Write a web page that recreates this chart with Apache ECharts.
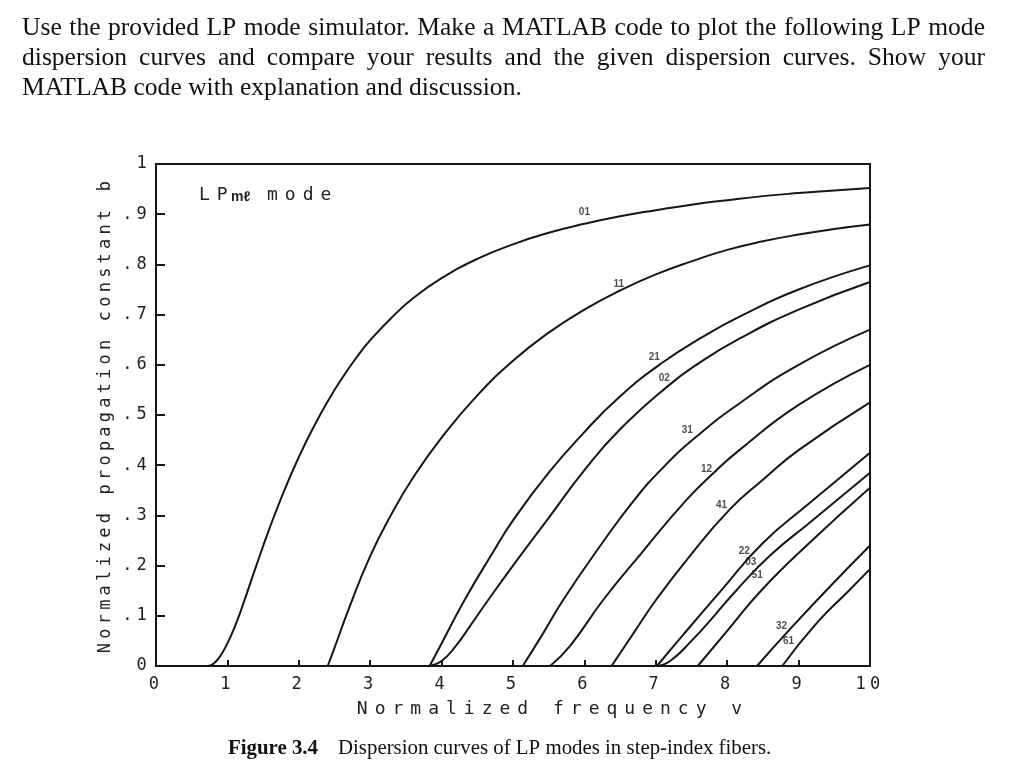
<!DOCTYPE html>
<html><head><meta charset="utf-8">
<script src="https://cdn.jsdelivr.net/npm/echarts@6/dist/echarts.min.js"></script>
<style>html,body{margin:0;padding:0;background:#fff}#c{width:1021px;height:773px}</style>
</head><body><div id="c"></div>
<script>
// ---------------- data ----------------
const V_TICKS = [0, 1, 2, 3, 4, 5, 6, 7, 8, 9, 10];
const B_TICKS = [0, 0.1, 0.2, 0.3, 0.4, 0.5, 0.6, 0.7, 0.8, 0.9, 1];
const B_TICK_LABELS = ['0', '.1', '.2', '.3', '.4', '.5', '.6', '.7', '.8', '.9', '1'];

const LP01 = [[0.72,0],[0.8,0.004],[0.9,0.02],[1.0,0.045],[1.1,0.077],[1.2,0.115],[1.4,0.198],[1.6,0.278],[1.8,0.351],[2.0,0.416],[2.2,0.474],[2.4,0.526],[2.6,0.572],[2.8,0.613],[3.0,0.649],[3.3,0.694],[3.6,0.7325],[4.0,0.7725],[4.5,0.811],[5.0,0.84],[5.5,0.863],[6.0,0.881],[6.5,0.896],[7.0,0.908],[7.5,0.919],[8.0,0.928],[8.5,0.936],[9.0,0.942],[9.5,0.947],[10,0.952]];
const LP11 = [[2.405,0],[2.5,0.036],[2.7,0.114],[3.0,0.219],[3.3,0.303],[3.6,0.375],[4.0,0.455],[4.5,0.539],[5.0,0.608],[5.5,0.664],[6.0,0.71],[6.5,0.748],[7.0,0.78],[7.5,0.806],[8.0,0.829],[8.5,0.846],[9.0,0.8595],[9.5,0.8705],[10,0.8795]];
const LP21 = [[3.832,0],[4.0,0.045],[4.32,0.131],[4.7,0.222],[5.0,0.29],[5.5,0.385],[6.0,0.466],[6.49,0.536],[7.09,0.604],[7.65,0.655],[8.2,0.698],[9.0,0.75],[10,0.798]];
const LP02 = [[3.832,0],[4.0,0.01],[4.2,0.04],[4.4,0.08],[4.65,0.131],[5.0,0.2],[5.5,0.295],[6.0,0.39],[6.49,0.47],[7.19,0.56],[7.6,0.603],[8.17,0.652],[9.0,0.71],[10,0.765]];
const LP31 = [[5.136,0],[5.4,0.06],[5.7,0.131],[6.2,0.235],[6.7,0.331],[7.1,0.395],[7.57,0.457],[8.17,0.523],[9.0,0.6],[10,0.67]];
const LP12 = [[5.52,0],[5.8,0.04],[6.26,0.131],[6.8,0.225],[7.43,0.331],[7.85,0.39],[8.17,0.43],[9.0,0.52],[10,0.6]];
const LP41 = [[6.38,0],[6.7,0.068],[7.0,0.131],[7.47,0.218],[8.03,0.311],[8.5,0.371],[9.0,0.43],[10,0.525]];
const LP22 = [[7.016,0],[7.4,0.065],[7.92,0.151],[8.5,0.245],[9.15,0.324],[10,0.425]];
const LP03 = [[7.016,0],[7.2,0.01],[7.5,0.05],[7.8,0.097],[8.13,0.151],[8.6,0.22],[9.15,0.285],[10,0.385]];
const LP51 = [[7.588,0],[8.0,0.07],[8.48,0.151],[9.15,0.245],[10,0.355]];
const LP32 = [[8.417,0],[8.87,0.072],[9.39,0.151],[10,0.24]];
const LP61 = [[8.771,0],[9.25,0.085],[9.71,0.151],[10,0.193]];

const MODE_NAMES = ['01','11','21','02','31','12','41','22','03','51','32','61'];
const MODE_DATA  = [LP01, LP11, LP21, LP02, LP31, LP12, LP41, LP22, LP03, LP51, LP32, LP61];
// label anchor positions (v, b) for each mode name
const LABEL_V = [6.00, 6.48, 6.98, 7.12, 7.44, 7.71, 7.92, 8.24, 8.33, 8.42, 8.76, 8.86];
const LABEL_B = [0.904, 0.761, 0.616, 0.574, 0.470, 0.392, 0.321, 0.229, 0.207, 0.181, 0.080, 0.050];

const TITLE_LINES = [
  'Use the provided LP mode simulator. Make a MATLAB code to plot the following LP mode',
  'dispersion curves and compare your results and the given dispersion curves. Show your',
  'MATLAB code with explanation and discussion.'
];
const CAPTION_BOLD = 'Figure 3.4';
const CAPTION_TEXT = 'Dispersion curves of LP modes in step-index fibers.';
const X_NAME = 'Normalized frequency v';
const Y_NAME = 'Normalized propagation constant b';

// ---------------- letter spacing for plotter-style mono text ----------------
(function(){
  const P = CanvasRenderingContext2D.prototype;
  if (!('letterSpacing' in P)) return;
  const SP = {'18': '7px', '17': '4.2px'};
  function pick(ctx){
    const f = ctx.font || '';
    if (f.indexOf('DejaVu Sans Mono') < 0) return null;
    const m = f.match(/(\d+)px/);
    return m ? (SP[m[1]] || null) : null;
  }
  ['fillText','strokeText','measureText'].forEach(function(k){
    const orig = P[k];
    P[k] = function(){
      const s = pick(this);
      if (s) {
        this.save();
        this.letterSpacing = s;
        let r;
        try { r = orig.apply(this, arguments); } finally { this.restore(); }
        return r;
      }
      return orig.apply(this, arguments);
    };
  });
})();

// ---------------- text layout helpers ----------------
const mc = document.createElement('canvas').getContext('2d');
function tw(t, font){ mc.font = font; return mc.measureText(t).width; }
const SERIF = '"Liberation Serif", "Times New Roman", serif';
const titleFs = 100 * 500 / tw(TITLE_LINES[2], '100px ' + SERIF);
const graphics = [];
const LINE_LEFT = 22, LINE_RIGHT = 985;
function txt(x, y, text, font, fill){
  return {type:'text', x: x, y: y, style:{text: text, font: font, fill: fill || '#111', align: 'left', verticalAlign: 'top'}};
}
TITLE_LINES.forEach(function(line, i){
  const y = 15 + i * 30;
  const font = titleFs.toFixed(2) + 'px ' + SERIF;
  if (i < 2) {
    const words = line.split(' ');
    const ws = words.map(function(w){ return tw(w, font); });
    const total = ws.reduce(function(a,b){return a+b;}, 0);
    const gap = (LINE_RIGHT - LINE_LEFT - total) / (words.length - 1);
    let x = LINE_LEFT;
    words.forEach(function(w, j){
      graphics.push(txt(x, y, w, font));
      x += ws[j] + gap;
    });
  } else {
    graphics.push(txt(LINE_LEFT, y, line, font));
  }
});
const capFs = 100 * 90 / tw(CAPTION_BOLD, 'bold 100px ' + SERIF);
graphics.push(txt(228, 738, CAPTION_BOLD, 'bold ' + capFs.toFixed(2) + 'px ' + SERIF));
graphics.push(txt(338, 738, CAPTION_TEXT, capFs.toFixed(2) + 'px ' + SERIF));
// LPml mode annotation
graphics.push(txt(199, 183, 'LP', '18px "DejaVu Sans Mono"', '#222'));
graphics.push(txt(231, 190, 'mℓ', 'bold 14px "Liberation Sans"', '#222'));
graphics.push(txt(267, 183, 'mode', '18px "DejaVu Sans Mono"', '#222'));

// ---------------- chart ----------------
const INK = '#161616';
const series = MODE_DATA.map(function(d, i){
  return {
    type: 'line', name: 'LP' + MODE_NAMES[i], data: d,
    smooth: 0.5, showSymbol: false, symbol: 'none',
    lineStyle: {color: INK, width: 2}, clip: true, z: 3
  };
});
series.push({
  type: 'scatter', name: 'labels', symbolSize: 1,
  itemStyle: {color: 'rgba(0,0,0,0)'},
  data: MODE_NAMES.map(function(n, i){ return [LABEL_V[i], LABEL_B[i], n]; }),
  label: {show: true, position: 'inside', formatter: function(p){ return p.data[2]; },
          fontFamily: '"Liberation Sans"', fontWeight: 'bold', fontSize: 10, color: '#222'},
  z: 5
});

const chart = echarts.init(document.getElementById('c'), null, {renderer: 'canvas'});
chart.setOption({
  backgroundColor: '#fff',
  animation: false,
  graphic: graphics,
  grid: {left: 156, right: 151, top: 164, bottom: 107, show: true, borderColor: INK, borderWidth: 2, backgroundColor: 'transparent'},
  xAxis: {
    type: 'value', min: V_TICKS[0], max: V_TICKS[V_TICKS.length-1], interval: 1,
    name: X_NAME, nameLocation: 'middle', nameGap: 31, nameMoveOverlap: false,
    nameTextStyle: {fontFamily: '"DejaVu Sans Mono"', fontSize: 18, color: '#222', padding: [0,0,0,80]},
    axisLine: {show: true, lineStyle: {color: INK, width: 2}},
    axisTick: {show: true, inside: true, length: 6, lineStyle: {color: INK, width: 2}},
    axisLabel: {fontFamily: '"DejaVu Sans Mono"', fontSize: 17, color: '#222', margin: 8,
                formatter: function(v){ return String(v); }},
    splitLine: {show: false}
  },
  yAxis: {
    type: 'value', min: B_TICKS[0], max: B_TICKS[B_TICKS.length-1], interval: 0.1,
    name: Y_NAME, nameLocation: 'middle', nameGap: 40, nameRotate: 90, nameMoveOverlap: false,
    nameTextStyle: {fontFamily: '"DejaVu Sans Mono"', fontSize: 17, color: '#222'},
    axisLine: {show: true, lineStyle: {color: INK, width: 2}},
    axisTick: {show: true, inside: true, length: 9, lineStyle: {color: INK, width: 2}},
    axisLabel: {fontFamily: '"DejaVu Sans Mono"', fontSize: 17, color: '#222', margin: 5,
                formatter: function(v){ const i = Math.round(v * 10); return B_TICK_LABELS[i]; }},
    splitLine: {show: false}
  },
  series: series
});
</script></body></html>
